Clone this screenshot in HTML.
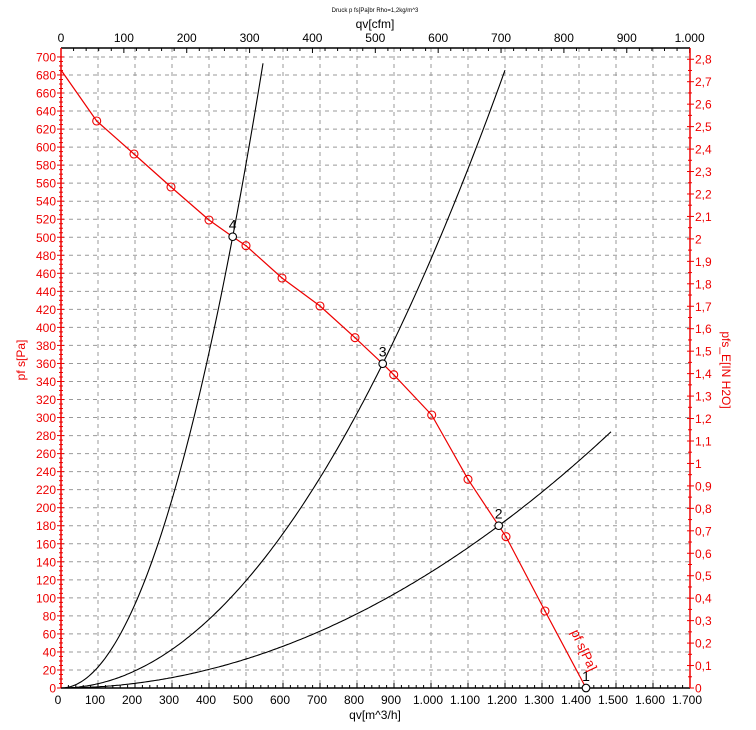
<!DOCTYPE html>
<html><head><meta charset="utf-8"><style>
html,body{margin:0;padding:0;background:#fff;}
svg{display:block;font-family:"Liberation Sans",Arial,sans-serif;}
</style></head><body>
<svg id="s" width="756" height="730" xmlns="http://www.w3.org/2000/svg"></svg>
<script>
const s=document.getElementById('s');let h='';
const L=61,R=690,T=48,B=688;
const X=v=>L+v*(R-L)/1700, Y=p=>B-p*0.9015;
// grid
for(let v=100;v<1700;v+=100)h+=`<line x1="${X(v)}" y1="${T}" x2="${X(v)}" y2="${B}" stroke="#999" stroke-dasharray="4,4"/>`;
for(let p=20;p<=700;p+=20)h+=`<line x1="${L}" y1="${Y(p)}" x2="${R}" y2="${Y(p)}" stroke="#999" stroke-dasharray="4,4"/>`;
// bottom ticks/labels
for(let v=0;v<=1700;v+=20){const big=v%100==0;h+=`<line x1="${X(v)}" y1="${B}" x2="${X(v)}" y2="${B-(big?5:3)}" stroke="#000"/>`;}
for(let v=0;v<=1700;v+=100){let t=v>=1000?(Math.floor(v/1000)+'.'+String(v%1000).padStart(3,'0')):v;h+=`<text x="${X(v)-3}" y="704" font-size="12" text-anchor="middle">${t}</text>`;}
h+=`<text x="375" y="719" font-size="12" text-anchor="middle">qv[m^3/h]</text>`;
// top cfm
const C=c=>L+c*1.699*(R-L)/1700;
for(let c=0;c<=1000;c+=20){const big=c%100==0;h+=`<line x1="${C(c)}" y1="${T}" x2="${C(c)}" y2="${T+(big?5:3)}" stroke="#000"/>`;}
for(let c=0;c<=1000;c+=100){let t=c==1000?'1.000':c;h+=`<text x="${C(c)}" y="42" font-size="12" text-anchor="middle">${t}</text>`;}
h+=`<text x="375" y="28" font-size="12" text-anchor="middle">qv[cfm]</text>`;
h+=`<text x="375" y="12" font-size="6" text-anchor="middle">Druck p fs[Pa]br Rho=1,2kg/m^3</text>`;
// left axis
for(let p=0;p<=700;p+=5){const big=p%20==0;h+=`<line x1="${L-(big?4:2)}" y1="${Y(p)}" x2="${L+(big?3:2)}" y2="${Y(p)}" stroke="#e00"/>`;}
for(let p=0;p<=700;p+=20)h+=`<text x="56" y="${Y(p)+4.5}" font-size="12" fill="#e00" text-anchor="end">${p}</text>`;
h+=`<text transform="translate(25,360) rotate(-90)" font-size="12" fill="#e00" text-anchor="middle">pf s[Pa]</text>`;
// right axis
for(let i=0;i<=56;i++){const v=i*0.05,y=B-v*249.09*0.9015;const big=i%2==0;h+=`<line x1="${R-(big?3:2)}" y1="${y}" x2="${R+(big?4:2)}" y2="${y}" stroke="#e00"/>`;}
for(let i=0;i<=28;i++){const v=i/10,y=B-v*249.09*0.9015;let t=(i%10==0)?String(i/10):v.toFixed(1).replace('.',',');h+=`<text x="695" y="${y+4.5}" font-size="12" fill="#e00">${t}</text>`;}
h+=`<text transform="translate(722,370) rotate(90)" font-size="12" fill="#e00" text-anchor="middle">pfs_E[IN H2O]</text>`;
// frame
h+=`<line x1="${L}" y1="${T}" x2="${R}" y2="${T}" stroke="#000" stroke-width="1.5"/>`;
h+=`<line x1="${L}" y1="${B}" x2="${R}" y2="${B}" stroke="#000" stroke-width="1.5"/>`;
h+=`<line x1="${L}" y1="${T}" x2="${L}" y2="${B}" stroke="#e00" stroke-width="1.5"/>`;
h+=`<line x1="${R}" y1="${T}" x2="${R}" y2="${B}" stroke="#e00" stroke-width="1.5"/>`;
// system curves
[[0.01531,202],[0.003134,444],[0.000847,550]].forEach(([k,m])=>{let pts=[];for(let d=0;d<=m;d+=2)pts.push((L+d)+','+(B-k*d*d).toFixed(1));h+=`<polyline points="${pts.join(' ')}" fill="none" stroke="#000" stroke-width="1.1"/>`;});
// fan curve
const fp=[[61,70],[96.7,121],[134,154],[171,187],[209,220],[232.7,236.7],[246,245.7],[282,278],[320,306],[355,337.7],[382.7,363.7],[393.7,374.7],[431.7,415],[468,479.3],[498.7,525.7],[506,536.7],[545,611],[586,688]];
h+=`<polyline points="${fp.map(p=>p.join(',')).join(' ')}" fill="none" stroke="#e00" stroke-width="1.2" stroke-linejoin="round"/>`;
[1,2,3,4,6,7,8,9,11,12,13,15,16].forEach(i=>{const [x,y]=fp[i];h+=`<circle cx="${x}" cy="${y}" r="4" fill="none" stroke="#e00" stroke-width="1.1"/><circle cx="${x}" cy="${y}" r="0.8" fill="#e00"/>`;});
// operating points
[[586,688,'1',0],[498.7,525.7,'2',0],[382.7,363.7,'3',0],[232.7,236.7,'4',0]].forEach(([x,y,t])=>{h+=`<circle cx="${x}" cy="${y}" r="3.8" fill="#fff" stroke="#000" stroke-width="1.1"/><text x="${x}" y="${y-7}" font-size="14" text-anchor="middle">${t}</text>`;});
h+=`<text transform="translate(580,652) rotate(65)" font-size="13" fill="#e00" text-anchor="middle">pf s[Pa]</text>`;
s.innerHTML=h;
</script>
</body></html>
